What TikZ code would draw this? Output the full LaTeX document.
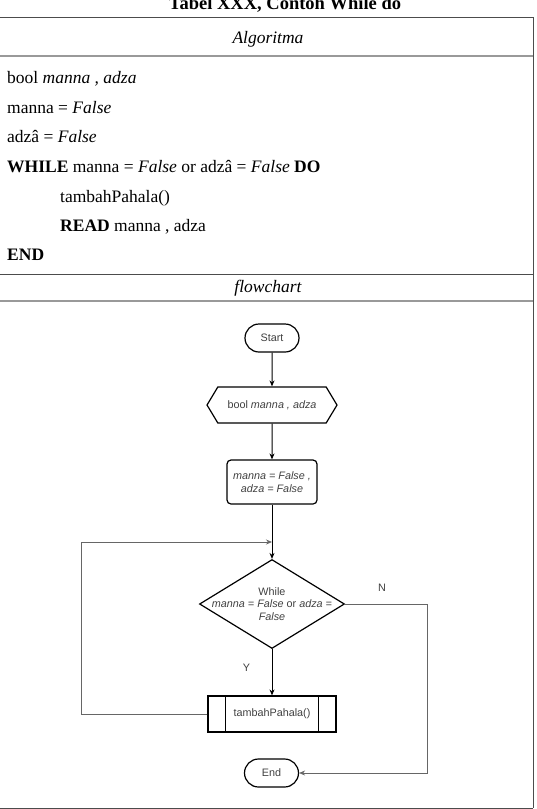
\documentclass[tikz,border=0pt]{standalone}
\usepackage{fontspec}
\setmainfont{Liberation Serif}
\newfontfamily\chartfont{Liberation Sans}
\usepackage{xcolor}
\usetikzlibrary{shapes.geometric}
\usetikzlibrary{shapes.symbols}
\usetikzlibrary{arrows.meta}

\begin{document}
\begin{tikzpicture}[x=1pt,y=-1pt,
    txt/.style={anchor=base west,inner sep=0pt,font=\fontsize{17.5}{19}\selectfont},
    head/.style={anchor=base,inner sep=0pt,font=\fontsize{17.5}{19}\selectfont\itshape},
    terminal/.style={draw,line width=1.2pt,rounded corners=14pt,minimum width=54pt,minimum height=28pt,
      inner sep=0pt,font=\chartfont\fontsize{10.8}{12.5}\selectfont,text=black!75},
    box/.style={draw,line width=1.2pt,rounded corners=4pt,minimum width=90pt,minimum height=44pt,
      inner sep=0pt,align=center,font=\chartfont\fontsize{10.8}{12.5}\selectfont,text=black!75},
    flow/.style={line width=1pt,-{Stealth[length=6pt,width=5pt]}},
    back/.style={draw=black!60,line width=0.8pt,-{Stealth[length=6pt,width=5pt]}},
    chart/.style={font=\chartfont\fontsize{10.8}{12.5}\selectfont,text=black!75}]
  \useasboundingbox (0,0) rectangle (536,809);
  % caption, cut at the top of the page
  \node[anchor=base,inner sep=0pt,font=\fontsize{18.5}{20}\selectfont\bfseries] at (285,9) {Tabel XXX, Contoh While do};
  % table lines
  \draw[black!70,line width=1pt] (0,17) -- (533,17);
  \draw[black!40,line width=1.2pt] (0,56) -- (533,56);
  \draw[black!70,line width=1pt] (0,274) -- (533,274);
  \draw[black!40,line width=1.2pt] (0,301) -- (533,301);
  \draw[black!70,line width=1pt] (0,808) -- (533,808);
  \draw[black!70,line width=1pt] (533,17) -- (533,808);
  % algorithm
  \node[head] (algo) at (268,43) {Algoritma};
  \node[txt] (l1) at (7,83) {bool \textit{manna , adza}};
  \node[txt] (l2) at (7,113) {manna = \textit{False}};
  \node[txt] (l3) at (7,142) {adzâ = \textit{False}};
  \node[txt] (l4) at (7,172) {\textbf{WHILE} manna = \textit{False} or adzâ = \textit{False} \textbf{DO}};
  \node[txt] (l5) at (60,202) {tambahPahala()};
  \node[txt] (l6) at (60,231) {\textbf{READ} manna , adza};
  \node[txt] (l7) at (7,260) {\textbf{END}};
  \node[head] (fc) at (268,292) {flowchart};
  % flowchart
  \node[terminal] (start) at (272,338) {Start};
  \node[signal,signal to=west and east,signal pointer angle=118,draw,line width=1.2pt,
    minimum width=130pt,minimum height=36pt,inner sep=0pt,chart] (bool) at (272,405) {bool \textit{manna , adza}};
  \node[box] (init) at (272,482) {\textit{manna = False ,}\\ \textit{adza = False}};
  \node[diamond,draw,line width=1.2pt,minimum width=145pt,minimum height=89pt,inner sep=0pt,
    label={[chart,align=center]center:While\\ \textit{manna = False} or \textit{adza =}\\ \textit{False}}] (while) at (272,604) {};
  \node[draw,line width=1.2pt,minimum width=128pt,minimum height=36pt,inner sep=0pt,chart] (tambah) at (272,714) {tambahPahala()};
  \draw[line width=1pt] ([xshift=18pt]tambah.north west) -- ([xshift=18pt]tambah.south west);
  \draw[line width=1pt] ([xshift=-18pt]tambah.north east) -- ([xshift=-18pt]tambah.south east);
  \node[terminal] (end) at (271.5,773) {End};
  \coordinate (loop) at (272,542);
  \draw[flow] (start) -- (bool);
  \draw[flow] (bool) -- (init);
  \draw[flow] (init) -- (while);
  \draw[flow] (while) -- node[chart,pos=0.4,left=18pt] {Y} (tambah);
  \draw[back] (tambah.west) -- (81,714) -- (81,542) -- (loop);
  \draw[back] (while.east) -- (427,604) -- (427,773) -- (end.east);
  \node[chart] (n) at (382,588) {N};
\end{tikzpicture}
\end{document}
